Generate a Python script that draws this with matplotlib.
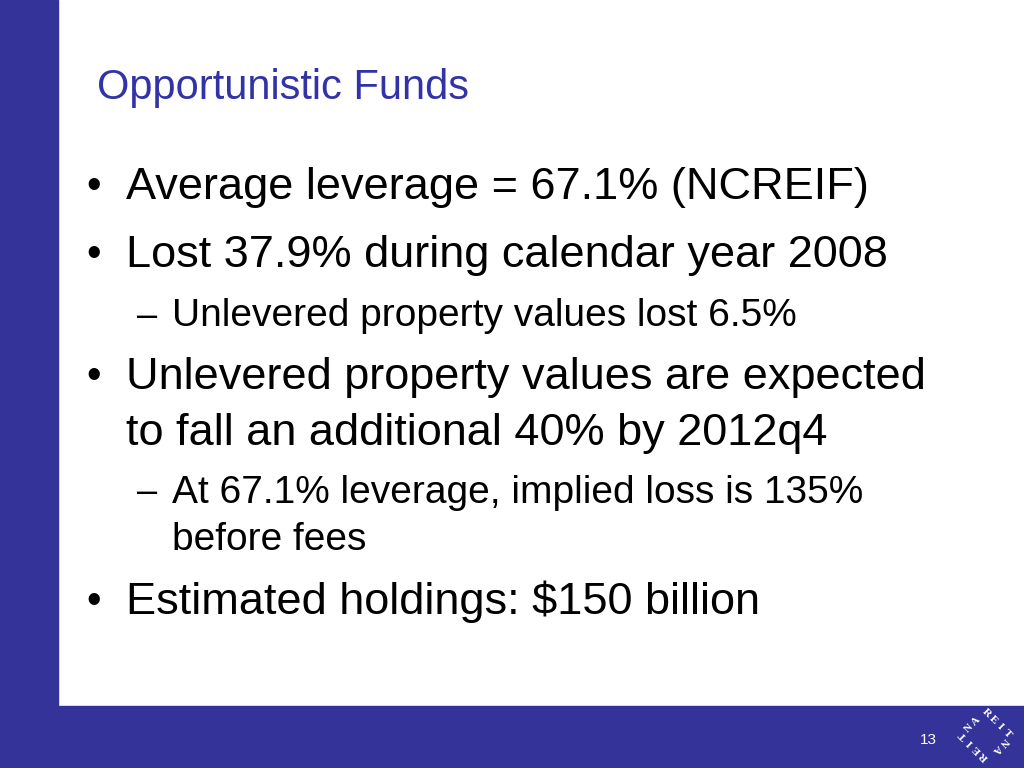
import matplotlib
matplotlib.use("Agg")
import matplotlib.pyplot as plt
from matplotlib.patches import Rectangle

title = "Opportunistic Funds"
lines = [
    (0, "Average leverage = 67.1% (NCREIF)", 187),
    (0, "Lost 37.9% during calendar year 2008", 255),
    (1, "Unlevered property values lost 6.5%", 316),
    (0, "Unlevered property values are expected", 377),
    (0, "to fall an additional 40% by 2012q4", 433, False),
    (1, "At 67.1% leverage, implied loss is 135%", 493),
    (1, "before fees", 540, False),
    (0, "Estimated holdings: $150 billion", 602),
]
page = "13"
blue = "#333399"

fig = plt.figure(figsize=(10.24, 7.68), dpi=100)
ax = fig.add_axes([0, 0, 1, 1])
ax.set_xlim(0, 1024); ax.set_ylim(768, 0); ax.axis("off")
ax.add_patch(Rectangle((0, 0), 58, 768, color=blue))
ax.add_patch(Rectangle((0, 706), 1024, 62, color=blue))
ff = ["Liberation Sans", "DejaVu Sans"]
ax.text(97, 88, title, fontsize=30, color="#3333a8", family=ff, va="center")
for item in lines:
    lvl, txt, y = item[:3]
    bullet = item[3] if len(item) > 3 else True
    if lvl == 0:
        if bullet:
            ax.text(86, y, "•", fontsize=30, family=ff, va="center")
        ax.text(126, y, txt, fontsize=32.5, family=ff, va="center")
    else:
        if bullet:
            ax.text(137, y, "–", fontsize=26, family=ff, va="center")
        ax.text(172, y, txt, fontsize=28, family=ff, va="center")
ax.text(928, 740, page, fontsize=11, color="white", family=ff, va="center", ha="center")
# logo
lf = dict(fontsize=8, color="white", family="Liberation Serif", ha="center", va="center", weight="bold")
for i, ch in enumerate("NA"):
    ax.text(969 + i*7, 728 - i*7, ch, rotation=45, **lf)
for i, ch in enumerate("REIT"):
    ax.text(986 + i*7, 713 + i*7, ch, rotation=-45, **lf)
for i, ch in enumerate("TIER"):
    ax.text(963 + i*7, 735 + i*7, ch, rotation=135, **lf)
for i, ch in enumerate("AN"):
    ax.text(997 + i*7, 749 - i*7, ch, rotation=-135, **lf)
fig.savefig("out.png", dpi=100)
